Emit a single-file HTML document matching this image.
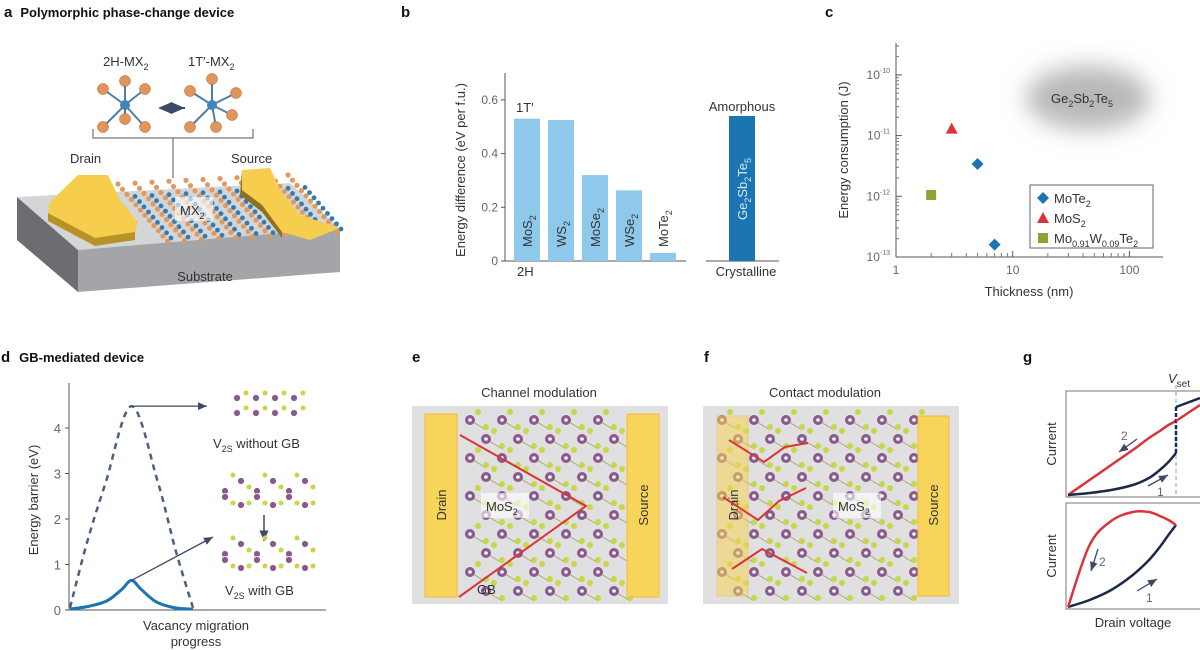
<!DOCTYPE html>
<html><head><meta charset="utf-8"><style>
body{margin:0;background:#fff}
svg{display:block;font-family:"Liberation Sans",sans-serif}
.t{font-size:13px;fill:#333}
.tk{font-size:12px;fill:#666}
.h{font-size:15px;font-weight:bold;fill:#111}
</style></head><body>
<svg id="s" width="1200" height="650" viewBox="0 0 1200 650">
<defs>
<filter id="blur" x="-50%" y="-50%" width="200%" height="200%"><feGaussianBlur stdDeviation="12"/></filter>
<marker id="ar" markerWidth="8" markerHeight="8" refX="7" refY="4" orient="auto"><path d="M0,1 L7,4 L0,7 z" fill="#3d4a66"/></marker>
<marker id="arL" markerWidth="8" markerHeight="8" refX="1" refY="4" orient="auto"><path d="M7,1 L0,4 L7,7 z" fill="#3d4a66"/></marker>
</defs>

<!-- Panel a -->
<g>
<text x="4" y="17" class="h">a<tspan dx="8" font-size="13">Polymorphic phase-change device</tspan></text>
<polygon points="17,240 17,197 78,250 78,292" fill="#6b6d70"/>
<polygon points="17,197 290,183 340,228 78,250" fill="#d4d5d7"/>
<polygon points="78,250 340,228 340,272 78,292" fill="#a3a5a8"/>
<text x="205" y="281" class="t" text-anchor="middle" font-size="14">Substrate</text>
<g id="lat"></g>
<polygon points="50,202 78,175 108,175 120,200 138,222 135,232 95,238 48,213" fill="#f6cd4c"/>
<polygon points="48,213 95,238 135,232 135,240 95,246 48,221" fill="#b89222"/>
<polygon points="242,170 270,168 280,190 300,215 340,228 310,240 282,232 262,205 242,190" fill="#f6cd4c"/>
<polygon points="242,170 242,190 262,205 282,232 282,238 262,212 240,195" fill="#8d7020"/>
<rect x="175" y="197" width="38" height="24" fill="#fff" opacity="0.6"/>
<text x="180" y="215" class="t" font-size="14">MX<tspan font-size="9" dy="4">2</tspan></text>
<text x="70" y="163" class="t" font-size="14">Drain</text>
<text x="231" y="163" class="t" font-size="14">Source</text>
<text x="103" y="66" class="t" font-size="14">2H-MX<tspan font-size="9" dy="4">2</tspan></text>
<text x="188" y="66" class="t" font-size="14">1T′-MX<tspan font-size="9" dy="4">2</tspan></text>
<g id="mols"></g>
<line x1="160" y1="108" x2="185" y2="108" stroke="#3d4a66" stroke-width="2" marker-end="url(#ar)" marker-start="url(#arL)"/>
<polyline points="93,129 93,138 253,138 253,129" fill="none" stroke="#555"/>
<line x1="173" y1="138" x2="173" y2="178" stroke="#555"/>
</g>

<!-- Panel b -->
<g>
<text x="401" y="17" class="h">b</text>
<g id="bchart"></g>
<text transform="translate(465,170) rotate(-90)" class="t" text-anchor="middle" font-size="14">Energy difference (eV per f.u.)</text>
<text x="516" y="112" class="t">1T′</text>
<text x="517" y="276" class="t">2H</text>
<text x="742" y="111" class="t" text-anchor="middle">Amorphous</text>
<text x="746" y="276" class="t" text-anchor="middle">Crystalline</text>
</g>

<!-- Panel c -->
<g>
<text x="825" y="17" class="h">c</text>
<ellipse cx="1088" cy="98" rx="62" ry="32" fill="#b8b8b8" filter="url(#blur)"/>
<text x="1051" y="103" class="t" font-size="14">Ge<tspan font-size="9" dy="4">2</tspan><tspan dy="-4">Sb</tspan><tspan font-size="9" dy="4">2</tspan><tspan dy="-4">Te</tspan><tspan font-size="9" dy="4">5</tspan></text>
<g id="cchart"></g>
<text transform="translate(848,150) rotate(-90)" class="t" text-anchor="middle" font-size="14">Energy consumption (J)</text>
<text x="1029" y="296" class="t" text-anchor="middle" font-size="14">Thickness (nm)</text>
<rect x="1030" y="185" width="123" height="63" fill="#fff" stroke="#666"/>
<g id="clegend"></g>
</g>

<!-- Panel d -->
<g>
<text x="1" y="362" class="h">d<tspan dx="9" font-size="13">GB-mediated device</tspan></text>
<g id="dchart"></g>
<text transform="translate(38,500) rotate(-90)" class="t" text-anchor="middle" font-size="14">Energy barrier (eV)</text>
<text x="196" y="630" class="t" text-anchor="middle" font-size="14">Vacancy migration</text>
<text x="196" y="646" class="t" text-anchor="middle" font-size="14">progress</text>
<text x="213" y="448" class="t" font-size="14">V<tspan font-size="9" dy="4">2S</tspan><tspan dy="-4"> without GB</tspan></text>
<text x="225" y="595" class="t" font-size="14">V<tspan font-size="9" dy="4">2S</tspan><tspan dy="-4"> with GB</tspan></text>
<line x1="264" y1="515" x2="264" y2="541" stroke="#3d4a66" stroke-width="1.5" marker-end="url(#ar)"/>
<g id="dmols"></g>
</g>

<!-- Panel e -->
<g>
<text x="412" y="362" class="h">e</text>
<text x="539" y="397" class="t" text-anchor="middle" font-size="14">Channel modulation</text>
<rect x="412" y="406" width="256" height="198" fill="#e0e0e0"/>
<g id="elat"></g>
<rect x="425" y="414" width="32" height="183" fill="#f7d45a" stroke="#f3b93a"/>
<rect x="627" y="414" width="32" height="183" fill="#f7d45a" stroke="#f3b93a"/>
<text transform="translate(446,505) rotate(-90)" class="t" text-anchor="middle" font-size="14">Drain</text>
<text transform="translate(648,505) rotate(-90)" class="t" text-anchor="middle" font-size="14">Source</text>
<polyline points="460,435 586,506 459,597" fill="none" stroke="#d8343a" stroke-width="2"/>
<rect x="481" y="493" width="48" height="25" fill="#fff" opacity="0.6"/>
<text x="486" y="511" class="t" font-size="14">MoS<tspan font-size="9" dy="4">2</tspan></text>
<text x="477" y="594" class="t" font-size="13">GB</text>
</g>

<!-- Panel f -->
<g>
<text x="704" y="362" class="h">f</text>
<text x="825" y="397" class="t" text-anchor="middle" font-size="14">Contact modulation</text>
<rect x="703" y="406" width="256" height="198" fill="#e0e0e0"/>
<g id="flat"></g>
<rect x="717" y="416" width="31" height="180" fill="#f7d45a" stroke="#f3b93a" opacity="0.55"/>
<rect x="918" y="416" width="31" height="180" fill="#f7d45a" stroke="#f3b93a"/>
<text transform="translate(738,505) rotate(-90)" class="t" text-anchor="middle" font-size="14">Drain</text>
<text transform="translate(938,505) rotate(-90)" class="t" text-anchor="middle" font-size="14">Source</text>
<g fill="none" stroke="#d8343a" stroke-width="2">
<polyline points="729,440 764,462 785,447 808,443"/>
<polyline points="723,497 758,520 779,501 806,488"/>
<polyline points="732,569 762,549 807,573"/>
</g>
<rect x="833" y="493" width="48" height="25" fill="#fff" opacity="0.6"/>
<text x="838" y="511" class="t" font-size="14">MoS<tspan font-size="9" dy="4">2</tspan></text>
</g>

<!-- Panel g -->
<g>
<text x="1023" y="362" class="h">g</text>
<rect x="1066" y="391" width="140" height="106" fill="none" stroke="#777"/>
<rect x="1066" y="503" width="140" height="106" fill="none" stroke="#777"/>
<line x1="1176" y1="385" x2="1176" y2="497" stroke="#8aa0c0" stroke-dasharray="4,3"/>
<text x="1168" y="383" class="t" font-size="14" font-style="italic">V<tspan font-size="10" font-style="normal" dy="4">set</tspan></text>
<text transform="translate(1056,444) rotate(-90)" class="t" text-anchor="middle" font-size="14">Current</text>
<text transform="translate(1056,556) rotate(-90)" class="t" text-anchor="middle" font-size="14">Current</text>
<text x="1133" y="627" class="t" text-anchor="middle" font-size="14">Drain voltage</text>
<g id="gchart"></g>
<line x1="1137" y1="439" x2="1119" y2="452" stroke="#3d4a66" stroke-width="1.3" marker-end="url(#ar)"/>
<text x="1121" y="440" class="tk" font-size="13">2</text>
<line x1="1148" y1="486" x2="1168" y2="475" stroke="#3d4a66" stroke-width="1.3" marker-end="url(#ar)"/>
<text x="1157" y="496" class="tk" font-size="13">1</text>
<line x1="1098" y1="549" x2="1091" y2="571" stroke="#3d4a66" stroke-width="1.3" marker-end="url(#ar)"/>
<text x="1099" y="566" class="tk" font-size="13">2</text>
<line x1="1137" y1="591" x2="1157" y2="579" stroke="#3d4a66" stroke-width="1.3" marker-end="url(#ar)"/>
<text x="1146" y="602" class="tk" font-size="13">1</text>
</g>
</svg>
<script>
var NS='http://www.w3.org/2000/svg';
function mk(p,tag,at){var e=document.createElementNS(NS,tag);for(var k in at)e.setAttribute(k,at[k]);p.appendChild(e);return e;}
function $(id){return document.getElementById(id);}
function smooth(pts){
 var d='M'+pts[0][0]+','+pts[0][1];
 for(var i=0;i<pts.length-1;i++){
  var p0=pts[Math.max(0,i-1)],p1=pts[i],p2=pts[i+1],p3=pts[Math.min(pts.length-1,i+2)];
  var c1=[p1[0]+(p2[0]-p0[0])/6,p1[1]+(p2[1]-p0[1])/6],c2=[p2[0]-(p3[0]-p1[0])/6,p2[1]-(p3[1]-p1[1])/6];
  d+=' C'+c1[0]+','+c1[1]+' '+c2[0]+','+c2[1]+' '+p2[0]+','+p2[1];
 }
 return d;
}

// ---- Panel b data
var bCategories=['MoS2','WS2','MoSe2','WSe2','MoTe2'];
var bValues=[0.53,0.525,0.32,0.263,0.03];
var gstValue=[0.54];
var bTicks=[0,0.2,0.4,0.6];
// ---- Panel c data
var cThickMoTe2=[5,7];
var cEnergyMoTe2=[3.4e-12,1.6e-13];
var cThickMoS2=[3];
var cEnergyMoS2=[1.3e-11];
var cThickMoW=[2];
var cEnergyMoW=[1.05e-12];
var cYTicks=[-13,-12,-11,-10];
var cXTicks=[1,10,100];
// ---- Panel d data
var dProgress=[0,0.14,0.29,0.5,0.71,0.86,1];
var dNoGB=[0.05,1.5,2.8,4.48,2.85,1.3,0.05];
var dProgressGB=[0,0.15,0.3,0.42,0.5,0.58,0.7,0.85,1];
var dWithGB=[0.02,0.08,0.2,0.45,0.65,0.45,0.18,0.05,0.02];
var dTicks=[0,1,2,3,4];
// ---- Panel g data (normalized voltage / current)
var gV=[0,0.2,0.4,0.6,0.75,0.85,0.93,1];
var gTopSweep1=[0,0.02,0.05,0.1,0.17,0.25,0.33,0.42];
var gTopSweep2=[0,0.15,0.3,0.45,0.57,0.64,0.7,0.74];
var gBotSweep1=[0,0.07,0.17,0.32,0.47,0.6,0.72,0.82];
var gBotSweep2=[0,0.62,0.86,0.95,0.95,0.91,0.87,0.82];

// Panel b
(function(){
 var g=$('bchart');
 var y=function(v){return 261-v/0.2*53.7;};
 mk(g,'line',{x1:505,y1:73,x2:505,y2:261,stroke:'#555'});
 mk(g,'line',{x1:505,y1:261,x2:686,y2:261,stroke:'#555'});
 mk(g,'line',{x1:706,y1:261,x2:779,y2:261,stroke:'#555'});
 bTicks.forEach(function(t){
  mk(g,'line',{x1:501,y1:y(t),x2:505,y2:y(t),stroke:'#555'});
  var tx=mk(g,'text',{x:498,y:y(t)+4,'text-anchor':'end','class':'tk'});tx.textContent=String(t);
  
  
 });
 bCategories.forEach(function(c,i){
  var x=514+i*34;
  var r=mk(g,'rect',{x:x,y:y(bValues[i]),width:26,height:261-y(bValues[i]),fill:'#8ec8ea'});
  
  
  var t=mk(g,'text',{transform:'translate('+(x+18)+',247) rotate(-90)','class':'t'});
  
  
  var m=c.match(/^(.*?)(2)$/);
  t.appendChild(document.createTextNode(m[1]));
  var s=mk(t,'tspan',{'font-size':9,dy:4});s.textContent='2';
 });
 var r=mk(g,'rect',{x:729,y:y(gstValue[0]),width:26,height:261-y(gstValue[0]),fill:'#1a75b2'});
 
 
 var t=mk(g,'text',{transform:'translate(747,220) rotate(-90)','class':'t',style:'fill:#d6ebf8'});
 t.innerHTML='Ge<tspan font-size="9" dy="4">2</tspan><tspan dy="-4">Sb</tspan><tspan font-size="9" dy="4">2</tspan><tspan dy="-4">Te</tspan><tspan font-size="9" dy="4">5</tspan>';
})();

// Panel c
(function(){
 var g=$('cchart');
 var x=function(v){return 896+116.7*Math.log10(v);};
 var y=function(v){return 257-60.7*(Math.log10(v)+13);};
 mk(g,'line',{x1:896,y1:43,x2:896,y2:257,stroke:'#555'});
 mk(g,'line',{x1:896,y1:257,x2:1163,y2:257,stroke:'#555'});
 cYTicks.forEach(function(p){
  var yy=y(Math.pow(10,p));
  mk(g,'line',{x1:896,y1:yy,x2:902,y2:yy,stroke:'#555'});
  var t=mk(g,'text',{x:890,y:yy+4,'text-anchor':'end','class':'tk'});
  t.innerHTML='10<tspan font-size="7" dy="-6">'+p+'</tspan>';
  
  
  for(var k=2;k<10;k++){var v=k*Math.pow(10,p);if(y(v)>43)mk(g,'line',{x1:896,y1:y(v),x2:899,y2:y(v),stroke:'#777'});}
 });
 cXTicks.forEach(function(v){
  mk(g,'line',{x1:x(v),y1:257,x2:x(v),y2:251,stroke:'#555'});
  var t=mk(g,'text',{x:x(v),y:274,'text-anchor':'middle','class':'tk'});t.textContent=String(v);
  
  
  for(var k=2;k<10;k++){if(x(k*v)<1163)mk(g,'line',{x1:x(k*v),y1:257,x2:x(k*v),y2:253,stroke:'#777'});}
 });
 function dia(p,cx,cy,c){return mk(p,'polygon',{points:(cx)+','+(cy-6)+' '+(cx+6)+','+cy+' '+cx+','+(cy+6)+' '+(cx-6)+','+cy,fill:c});}
 function tri(p,cx,cy,c){return mk(p,'polygon',{points:cx+','+(cy-6)+' '+(cx+6)+','+(cy+5)+' '+(cx-6)+','+(cy+5),fill:c});}
 function sq(p,cx,cy,c){return mk(p,'rect',{x:cx-5,y:cy-5,width:10,height:10,fill:c});}
 cThickMoTe2.forEach(function(t,i){var e=dia(g,x(t),y(cEnergyMoTe2[i]),'#1a75b2');});
 cThickMoS2.forEach(function(t,i){var e=tri(g,x(t),y(cEnergyMoS2[i]),'#d8343a');});
 cThickMoW.forEach(function(t,i){var e=sq(g,x(t),y(cEnergyMoW[i]),'#8ea336');});
 var L=$('clegend');
 dia(L,1043,198,'#1a75b2');tri(L,1043,218,'#d8343a');sq(L,1043,238,'#8ea336');
 var a=mk(L,'text',{x:1054,y:203,'class':'t'});a.innerHTML='MoTe<tspan font-size="9" dy="4">2</tspan>';
 
 var b=mk(L,'text',{x:1054,y:223,'class':'t'});b.innerHTML='MoS<tspan font-size="9" dy="4">2</tspan>';
 
 var c=mk(L,'text',{x:1054,y:243,'class':'t'});c.innerHTML='Mo<tspan font-size="9" dy="4">0.91</tspan><tspan dy="-4">W</tspan><tspan font-size="9" dy="4">0.09</tspan><tspan dy="-4">Te</tspan><tspan font-size="9" dy="4">2</tspan>';
 
})();

// Panel d
(function(){
 var g=$('dchart');
 var x=function(p){return 70+p*123;};
 var y=function(v){return 610-v*45.5;};
 mk(g,'line',{x1:69,y1:383,x2:69,y2:610,stroke:'#555'});
 mk(g,'line',{x1:69,y1:610,x2:326,y2:610,stroke:'#555'});
 dTicks.forEach(function(t){
  mk(g,'line',{x1:65,y1:y(t),x2:69,y2:y(t),stroke:'#555'});
  var tx=mk(g,'text',{x:61,y:y(t)+5,'text-anchor':'end','class':'tk',style:'font-size:13px'});tx.textContent=String(t);
  
  
 });
 var p1=dProgress.map(function(p,i){return [x(p),y(dNoGB[i])];});
 var l1=mk(g,'path',{d:smooth(p1),fill:'none',stroke:'#4e5f80','stroke-width':2.5,'stroke-dasharray':'6,5'});
 
 
 var p2=dProgressGB.map(function(p,i){return [x(p),y(dWithGB[i])];});
 var l2=mk(g,'path',{d:smooth(p2),fill:'none',stroke:'#1a75b2','stroke-width':3});
 
 
 mk(g,'line',{x1:x(0.5),y1:y(4.48),x2:207,y2:y(4.48),stroke:'#3d4a66','stroke-width':1.3,'marker-end':'url(#ar)'});
 mk(g,'line',{x1:x(0.5),y1:y(0.65),x2:213,y2:537,stroke:'#3d4a66','stroke-width':1.3,'marker-end':'url(#ar)'});
})();

// molecules
(function(){
 var m=$('dmols');
 function ring(ox,oy,pts){pts.forEach(function(p){var c=p[2]?'#8a5a8f':'#c8d64a';var r=p[2]?3.5:2.5;
  mk(m,'circle',{cx:ox+p[0],cy:oy+p[1],r:r,fill:c,stroke:p[2]?'#fff':'none','stroke-width':p[2]?0.8:0});});}
 var top=[];for(var i=0;i<4;i++){top.push([i*19,8,1],[i*19+9,3,0]);top.push([i*19+9,18,0],[i*19,23,1]);}
 ring(237,390,top);
 var a=[];for(i=0;i<6;i++){a.push([i*16,i%2?6:16,1],[i*16+8,i%2?12:0,0],[i*16+8,28,0],[i*16,i%2?30:22,1]);}
 ring(225,475,a);ring(225,538,a);
 var mo=$('mols');
 function atom(x,y,r,c){mk(mo,'circle',{cx:x,cy:y,r:r,fill:c,stroke:'#a0602a','stroke-width':0.5});}
 [125,212].forEach(function(cx,k){
  var cy=105;
  var sp=k?[[0,-26],[-22,-14],[24,-12],[20,10],[-22,22],[4,22]]:[[-22,-16],[20,-16],[0,-24],[-22,22],[20,22],[0,14]];
  sp.forEach(function(p){mk(mo,'line',{x1:cx,y1:cy,x2:cx+p[0],y2:cy+p[1],stroke:'#4d7ea8','stroke-width':2});});
  sp.forEach(function(p){atom(cx+p[0],cy+p[1],5.5,'#e0955a');});
  mk(mo,'circle',{cx:cx,cy:cy,r:5,fill:'#3f86b8'});
 });
})();

// lattice in panel a
(function(){
 var g=$('lat');
 for(var j=0;j<12;j++)for(var i=0;i<11;i++){
  var x=118+i*17+j*4.5, y=184+j*5.2-i*0.9;
  if(j>1&&j<11) mk(g,'circle',{cx:x+8,cy:y+2,r:2.4,fill:'#2c7db8'});
  mk(g,'circle',{cx:x,cy:y,r:2.6,fill:'#e09a60'});
 }
})();

// atom lattices panel e/f
function lattice(id,x0,x1,y0,y1){
 var g=$(id);
 var row=0;
 for(var y=y0;y<y1;y+=19,row++){
  for(var x=x0+(row%2?16:0);x<x1;x+=32){
   mk(g,'line',{x1:x,y1:y,x2:x+16,y2:y+10,stroke:'#a8a070','stroke-width':0.8});
   mk(g,'circle',{cx:x,cy:y,r:5,fill:'#8a5a8f'});
   mk(g,'circle',{cx:x,cy:y,r:1.8,fill:'#fff'});
   mk(g,'circle',{cx:x+16,cy:y+7,r:3,fill:'#c8d64a'});
   mk(g,'circle',{cx:x+8,cy:y-8,r:3,fill:'#c8d64a'});
  }
 }
}
lattice('elat',470,625,420,600);
lattice('flat',722,918,420,600);

// Panel g
(function(){
 var g=$('gchart');
 var X=function(v){return 1068+v*108;};
 var Yt=function(c){return 495-c*100;};
 var Yb=function(c){return 607-c*100;};
 function line(cs,Y,col,name){
  var p=gV.map(function(v,i){return [X(v),Y(cs[i])];});
  var l=mk(g,'path',{d:smooth(p),fill:'none',stroke:col,'stroke-width':2.5});
  
  
 }
 line(gTopSweep2,Yt,'#d8343a','g-top-sweep-2');
 line(gTopSweep1,Yt,'#1b2a4a','g-top-sweep-1');
 mk(g,'line',{x1:X(1),y1:Yt(gTopSweep1[7]),x2:X(1),y2:Yt(0.88),stroke:'#1b2a4a','stroke-width':2.5,'stroke-dasharray':'4,2'});
 mk(g,'polyline',{points:X(1)+','+Yt(0.88)+' 1200,'+Yt(0.97),fill:'none',stroke:'#1b2a4a','stroke-width':2.5});
 mk(g,'line',{x1:X(gV[7]),y1:Yt(gTopSweep2[7]),x2:1200,y2:Yt(0.90),stroke:'#d8343a','stroke-width':2.5});
 line(gBotSweep1,Yb,'#1b2a4a','g-bottom-sweep-1');
 line(gBotSweep2,Yb,'#d8343a','g-bottom-sweep-2');
})();
</script>
</body></html>
